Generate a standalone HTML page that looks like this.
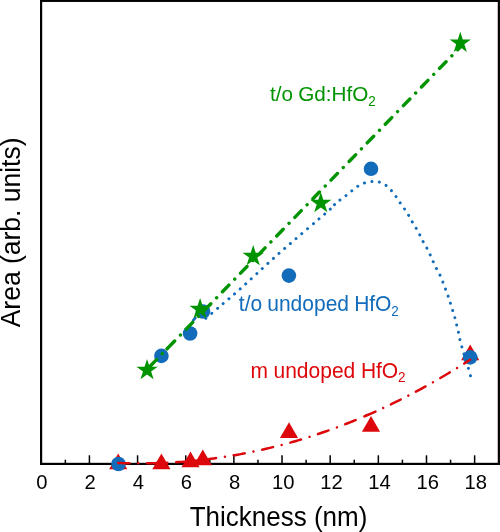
<!DOCTYPE html>
<html lang="en"><head><meta charset="utf-8"><title>Area vs Thickness</title>
<style>html,body{margin:0;padding:0;background:#fff}body{width:500px;height:532px;overflow:hidden}</style></head>
<body>
<svg width="500" height="532" viewBox="0 0 500 532" style="display:block">
<rect width="500" height="532" fill="#fff"/>
<line x1="65.35" y1="463.90" x2="65.35" y2="459.70" stroke="#000" stroke-width="1.5"/>
<line x1="89.42" y1="463.90" x2="89.42" y2="455.30" stroke="#000" stroke-width="1.5"/>
<line x1="113.50" y1="463.90" x2="113.50" y2="459.70" stroke="#000" stroke-width="1.5"/>
<line x1="137.57" y1="463.90" x2="137.57" y2="455.30" stroke="#000" stroke-width="1.5"/>
<line x1="161.65" y1="463.90" x2="161.65" y2="459.70" stroke="#000" stroke-width="1.5"/>
<line x1="185.73" y1="463.90" x2="185.73" y2="455.30" stroke="#000" stroke-width="1.5"/>
<line x1="209.80" y1="463.90" x2="209.80" y2="459.70" stroke="#000" stroke-width="1.5"/>
<line x1="233.88" y1="463.90" x2="233.88" y2="455.30" stroke="#000" stroke-width="1.5"/>
<line x1="257.95" y1="463.90" x2="257.95" y2="459.70" stroke="#000" stroke-width="1.5"/>
<line x1="282.03" y1="463.90" x2="282.03" y2="455.30" stroke="#000" stroke-width="1.5"/>
<line x1="306.11" y1="463.90" x2="306.11" y2="459.70" stroke="#000" stroke-width="1.5"/>
<line x1="330.18" y1="463.90" x2="330.18" y2="455.30" stroke="#000" stroke-width="1.5"/>
<line x1="354.26" y1="463.90" x2="354.26" y2="459.70" stroke="#000" stroke-width="1.5"/>
<line x1="378.33" y1="463.90" x2="378.33" y2="455.30" stroke="#000" stroke-width="1.5"/>
<line x1="402.41" y1="463.90" x2="402.41" y2="459.70" stroke="#000" stroke-width="1.5"/>
<line x1="426.49" y1="463.90" x2="426.49" y2="455.30" stroke="#000" stroke-width="1.5"/>
<line x1="450.56" y1="463.90" x2="450.56" y2="459.70" stroke="#000" stroke-width="1.5"/>
<line x1="474.64" y1="463.90" x2="474.64" y2="455.30" stroke="#000" stroke-width="1.5"/>
<rect x="41.10" y="0.85" width="457.75" height="463.05" fill="none" stroke="#000" stroke-width="2.2"/>
<g font-family="'Liberation Sans', sans-serif" font-size="20.2" text-anchor="middle" fill="#000">
<text transform="translate(41.97,489.1) scale(1,1.04)">0</text>
<text transform="translate(90.12,489.1) scale(1,1.04)">2</text>
<text transform="translate(138.27,489.1) scale(1,1.04)">4</text>
<text transform="translate(186.43,489.1) scale(1,1.04)">6</text>
<text transform="translate(234.58,489.1) scale(1,1.04)">8</text>
<text transform="translate(283.23,489.1) scale(1,1.04)">10</text>
<text transform="translate(331.38,489.1) scale(1,1.04)">12</text>
<text transform="translate(379.53,489.1) scale(1,1.04)">14</text>
<text transform="translate(427.69,489.1) scale(1,1.04)">16</text>
<text transform="translate(475.84,489.1) scale(1,1.04)">18</text>
</g>
<text transform="translate(278.5,525.6) scale(1,1.03)" font-family="'Liberation Sans', sans-serif" font-size="26" text-anchor="middle" fill="#000">Thickness (nm)</text>
<text transform="translate(19.8,232.4) rotate(-90) scale(1,1.04)" font-family="'Liberation Sans', sans-serif" font-size="26.5" text-anchor="middle" fill="#000">Area (arb. units)</text>
<polygon points="118.20,453.40 127.29,469.15 109.11,469.15" fill="#dc080c"/>
<polygon points="161.40,453.40 170.49,469.15 152.31,469.15" fill="#dc080c"/>
<polygon points="190.50,451.50 199.59,467.25 181.41,467.25" fill="#dc080c"/>
<polygon points="202.80,449.50 211.89,465.25 193.71,465.25" fill="#dc080c"/>
<polygon points="289.00,422.30 298.09,438.05 279.91,438.05" fill="#dc080c"/>
<polygon points="371.00,415.90 380.09,431.65 361.91,431.65" fill="#dc080c"/>
<polygon points="470.20,344.50 479.29,360.25 461.11,360.25" fill="#dc080c"/>
<circle cx="118.50" cy="464.00" r="7.30" fill="#126cba"/>
<circle cx="161.40" cy="355.90" r="7.30" fill="#126cba"/>
<circle cx="190.10" cy="333.50" r="7.30" fill="#126cba"/>
<circle cx="203.00" cy="311.50" r="7.30" fill="#126cba"/>
<circle cx="288.90" cy="275.60" r="7.30" fill="#126cba"/>
<circle cx="371.00" cy="168.80" r="7.30" fill="#126cba"/>
<circle cx="470.20" cy="357.40" r="7.30" fill="#126cba"/>
<path d="M205.40,318.60 C206.37,317.80 209.27,315.43 211.20,313.80 C213.13,312.17 215.10,310.43 217.00,308.80 C218.90,307.17 218.83,307.22 222.60,304.00 C226.37,300.78 230.37,297.78 239.60,289.50 C248.83,281.22 262.93,267.65 278.00,254.30 C293.07,240.95 320.60,217.72 330.00,209.40 C339.40,201.08 332.73,205.97 334.40,204.40 C336.07,202.83 338.07,201.47 340.00,200.00 C341.93,198.53 344.07,197.10 346.00,195.60 C347.93,194.10 349.67,192.53 351.60,191.00 C353.53,189.47 355.47,187.73 357.60,186.40 C359.73,185.07 362.07,183.80 364.40,183.00 C366.73,182.20 369.17,181.77 371.60,181.60 C374.03,181.43 376.60,181.37 379.00,182.00 C381.40,182.63 383.93,183.97 386.00,185.40 C388.07,186.83 389.73,188.73 391.40,190.60 C393.07,192.47 394.57,194.60 396.00,196.60 C397.43,198.60 398.60,200.57 400.00,202.60 C401.40,204.63 403.00,206.73 404.40,208.80 C405.80,210.87 407.13,212.90 408.40,215.00 C409.67,217.10 410.73,219.23 412.00,221.40 C413.27,223.57 414.73,225.80 416.00,228.00 C417.27,230.20 418.43,232.37 419.60,234.60 C420.77,236.83 421.80,239.18 423.00,241.40 C424.20,243.62 425.62,245.70 426.80,247.90 C427.98,250.10 429.03,252.30 430.10,254.60 C431.17,256.90 432.12,259.35 433.20,261.70 C434.28,264.05 435.42,266.35 436.60,268.70 C437.78,271.05 439.22,273.45 440.30,275.80 C441.38,278.15 442.17,280.42 443.10,282.80 C444.03,285.18 445.00,287.70 445.90,290.10 C446.80,292.50 447.70,294.85 448.50,297.20 C449.30,299.55 449.95,301.82 450.70,304.20 C451.45,306.58 452.25,309.05 453.00,311.50 C453.75,313.95 454.55,316.50 455.20,318.90 C455.85,321.30 456.33,323.55 456.90,325.90 C457.47,328.25 458.08,330.65 458.60,333.00 C459.12,335.35 459.47,337.70 460.00,340.00 C460.53,342.30 460.40,342.07 461.80,346.80 C463.20,351.53 467.00,363.73 468.40,368.40 C469.80,373.07 469.78,373.32 470.20,374.80 C470.62,376.28 470.78,376.88 470.90,377.30" fill="none" stroke="#126cba" stroke-width="3" stroke-linecap="round" stroke-dasharray="0.01 7.5" stroke-dashoffset="-0.8"/>
<line x1="193" y1="320.6" x2="195.4" y2="317.8" stroke="#126cba" stroke-width="2.6" stroke-linecap="round"/>
<path d="M118.20,463.10 L121.20,463.11 L124.20,463.15 L127.20,463.18 L130.20,463.21 L133.20,463.24 L136.20,463.27 L139.20,463.28 L142.20,463.28 L145.20,463.26 L148.20,463.23 L151.20,463.19 L154.20,463.13 L157.20,463.06 L160.20,462.97 L163.19,462.87 L166.19,462.76 L169.19,462.63 L172.19,462.48 L175.18,462.32 L178.17,462.11 L181.17,461.89 L184.16,461.65 L187.15,461.39 L190.13,461.12 L193.12,460.84 L196.10,460.54 L199.09,460.22 L202.07,459.89 L205.05,459.54 L208.03,459.17 L211.00,458.79 L213.98,458.40 L216.95,457.98 L219.92,457.56 L222.88,457.11 L225.85,456.65 L228.81,456.18 L231.77,455.69 L234.73,455.18 L237.68,454.66 L240.63,454.12 L243.58,453.57 L246.53,453.00 L249.47,452.41 L252.41,451.81 L255.34,451.19 L258.28,450.56 L261.20,449.91 L264.13,449.25 L267.05,448.57 L269.97,447.87 L272.89,447.16 L275.80,446.44 L278.70,445.70 L281.61,444.94 L284.51,444.17 L287.40,443.38 L290.29,442.58 L293.18,441.76 L296.06,440.93 L298.94,440.08 L301.81,439.22 L304.68,438.34 L307.55,437.45 L310.41,436.55 L313.26,435.63 L316.11,434.69 L318.96,433.74 L321.80,432.78 L324.63,431.80 L327.47,430.81 L330.29,429.80 L333.11,428.78 L335.93,427.74 L338.74,426.70 L341.54,425.63 L344.34,424.56 L347.14,423.47 L349.93,422.36 L352.71,421.25 L355.49,420.12 L355.59,420.08" fill="none" stroke="#dc080c" stroke-width="2.5" stroke-linecap="round" stroke-dasharray="11.1 8.95 0.01 8.94"/>
<path d="M365.41,415.95 L368.17,414.76 L370.92,413.56 L373.66,412.34 L376.40,411.12 L379.13,409.87 L381.85,408.62 L384.57,407.35 L387.29,406.07 L389.99,404.78 L392.70,403.48 L395.39,402.16 L398.08,400.84 L400.77,399.50 L403.44,398.15 L406.12,396.78 L408.78,395.41 L411.44,394.02 L414.10,392.63 L416.75,391.22 L419.39,389.80 L422.03,388.37 L424.66,386.92 L427.28,385.47 L429.90,384.01 L432.51,382.53 L435.12,381.05 L437.72,379.55 L440.32,378.04 L442.90,376.53 L445.49,375.00 L448.06,373.46 L450.63,371.92 L453.20,370.36 L455.75,368.79 L458.30,367.21 L460.85,365.62 L463.39,364.03 L465.92,362.42 L468.45,360.80 L470.20,359.68" fill="none" stroke="#dc080c" stroke-width="2.5" stroke-linecap="round" stroke-dasharray="11 8.5 0.01 8.49"/>
<path d="M364.35,416.41 L366.09,415.66" fill="none" stroke="#dc080c" stroke-width="2.5" stroke-linecap="round"/>
<line x1="147" y1="369.42" x2="460.3" y2="47.07" stroke="#009300" stroke-width="3.4" stroke-linecap="round" stroke-dasharray="9.3 8.33 0.01 8.32" stroke-dashoffset="21.55"/>
<line x1="166.0" y1="349.9" x2="168" y2="347.8" stroke="#009300" stroke-width="3.2"/>
<polygon points="147.05,359.10 149.56,366.84 157.70,366.84 151.12,371.62 153.63,379.36 147.05,374.58 140.47,379.36 142.98,371.62 136.40,366.84 144.54,366.84" fill="#009300"/>
<polygon points="200.10,298.10 202.61,305.84 210.75,305.84 204.17,310.62 206.68,318.36 200.10,313.58 193.52,318.36 196.03,310.62 189.45,305.84 197.59,305.84" fill="#009300"/>
<polygon points="253.20,245.10 255.71,252.84 263.85,252.84 257.27,257.62 259.78,265.36 253.20,260.58 246.62,265.36 249.13,257.62 242.55,252.84 250.69,252.84" fill="#009300"/>
<polygon points="320.80,192.10 323.31,199.84 331.45,199.84 324.87,204.62 327.38,212.36 320.80,207.58 314.22,212.36 316.73,204.62 310.15,199.84 318.29,199.84" fill="#009300"/>
<polygon points="460.30,31.70 462.81,39.44 470.95,39.44 464.37,44.22 466.88,51.96 460.30,47.18 453.72,51.96 456.23,44.22 449.65,39.44 457.79,39.44" fill="#009300"/>
<text transform="translate(270.0,101.2) scale(1,1.02)" font-family="'Liberation Sans', sans-serif" font-size="20.7" word-spacing="-0.50" fill="#009300">t/o Gd:HfO<tspan font-size="13.5" dy="4.5" dx="-0.2">2</tspan></text>
<text transform="translate(238.8,311.2) scale(1,1.02)" font-family="'Liberation Sans', sans-serif" font-size="21.0" word-spacing="-0.70" fill="#126cba">t/o undoped HfO<tspan font-size="13.5" dy="4.5" dx="-0.2">2</tspan></text>
<text transform="translate(250.4,377.5) scale(1,1.02)" font-family="'Liberation Sans', sans-serif" font-size="21.0" word-spacing="-0.20" fill="#dc080c">m undoped HfO<tspan font-size="13.5" dy="4.5" dx="-0.2">2</tspan></text>
</svg>
</body></html>
